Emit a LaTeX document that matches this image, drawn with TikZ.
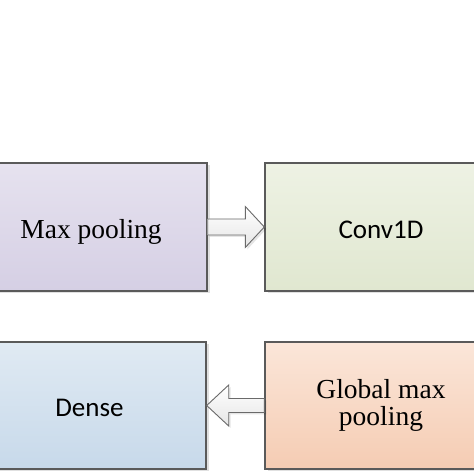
\documentclass[tikz,border=0pt]{standalone}
\usepackage{fontspec}
\setmainfont{Liberation Serif}
\newfontfamily\calib{Carlito}
\usetikzlibrary{calc,shadows}
\definecolor{bordc}{HTML}{5A5A5A}
\definecolor{arrc}{HTML}{6A6A6A}
\definecolor{mpT}{HTML}{E6E2EF}
\definecolor{mpB}{HTML}{D5CFE4}
\definecolor{cvT}{HTML}{EEF2E4}
\definecolor{cvB}{HTML}{E0E7D0}
\definecolor{dnT}{HTML}{E0EAF3}
\definecolor{dnB}{HTML}{C7D9EA}
\definecolor{gmT}{HTML}{FBE6D9}
\definecolor{gmB}{HTML}{F5CCB3}
\tikzset{
  boxsty/.style={draw=bordc, line width=1.4pt, inner sep=0pt, align=center,
    font=\fontsize{27.5}{26.5}\selectfont,
    drop shadow={shadow xshift=2.5pt, shadow yshift=-2.5pt, fill=black, opacity=0.12}},
  arrowsty/.style={draw=arrc, line width=0.9pt, top color=white, bottom color=black!10,
    drop shadow={shadow xshift=2pt, shadow yshift=-2pt, fill=black, opacity=0.10}}
}
\begin{document}
\begin{tikzpicture}[x=1pt,y=1pt]
\fill[white] (0,0) rectangle (474,474);
\useasboundingbox (0,0) rectangle (474,474);
\begin{scope}
\clip (0,0) rectangle (474,474);
\node[boxsty, minimum width=232pt, minimum height=128pt, top color=mpT, bottom color=mpB,
  text height=22.2pt, text depth=0pt] (maxp) at (91,247) {Max pooling};
\node[boxsty, minimum width=232pt, minimum height=128pt, top color=cvT, bottom color=cvB,
  text height=22.4pt, text depth=0pt, font=\fontsize{27}{27}\selectfont\calib] (conv) at (381,247) {Conv1D};
\node[boxsty, minimum width=233pt, minimum height=127pt, top color=dnT, bottom color=dnB,
  text height=23pt, text depth=0pt, font=\fontsize{27}{27}\selectfont\calib] (dense) at (89.5,68.5) {Dense};
\node[boxsty, minimum width=232pt, minimum height=127pt, top color=gmT, bottom color=gmB] (gmp) at (381,68.5) {Global max\\pooling};
\draw[arrowsty] ($(maxp.east)+(0,8)$) -- ($(conv.west)+(-19,8)$) -- ($(conv.west)+(-19,20.5)$)
  -- ($(conv.west)+(0,0)$) -- ($(conv.west)+(-19,-20.5)$) -- ($(conv.west)+(-19,-8)$)
  -- ($(maxp.east)+(0,-8)$) -- cycle;
\draw[arrowsty] ($(gmp.west)+(0,7)$) -- ($(dense.east)+(22,7)$) -- ($(dense.east)+(22,20.5)$)
  -- ($(dense.east)+(0,0)$) -- ($(dense.east)+(22,-20.5)$) -- ($(dense.east)+(22,-7)$)
  -- ($(gmp.west)+(0,-7)$) -- cycle;
\end{scope}
\end{tikzpicture}
\end{document}
